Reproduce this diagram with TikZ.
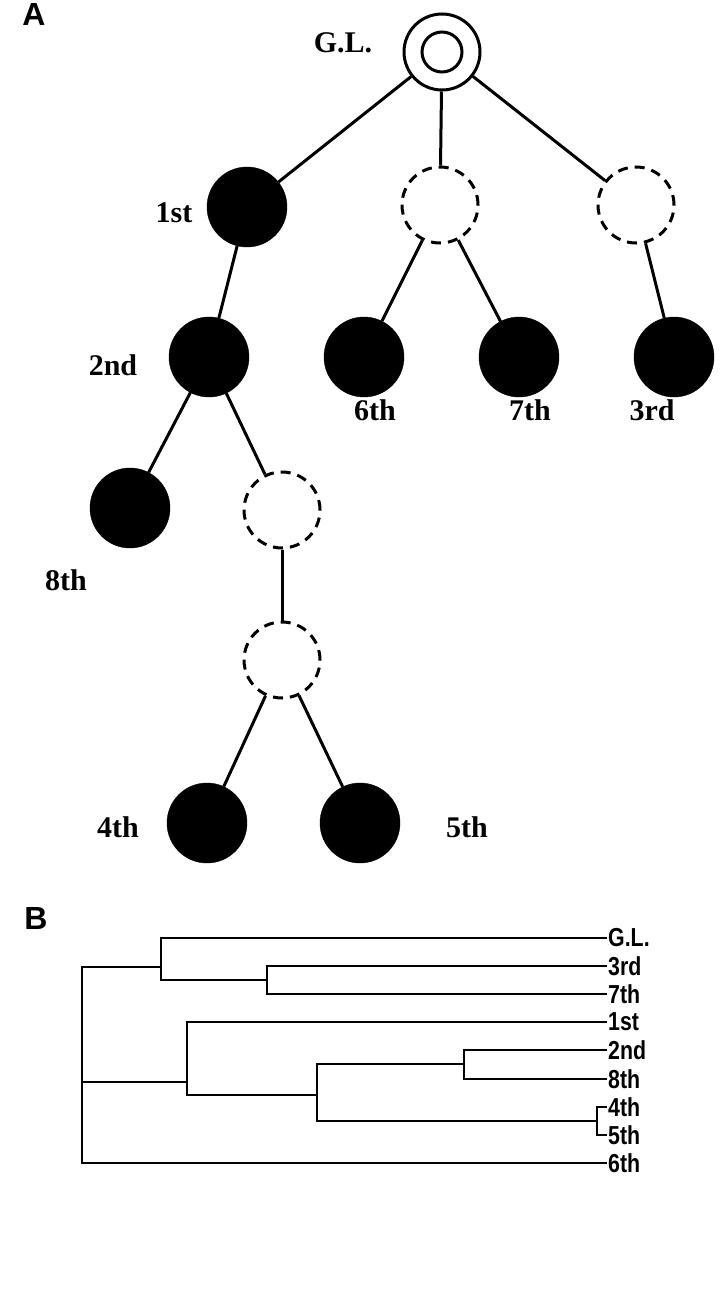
\documentclass[tikz,border=0pt]{standalone}
\usepackage{fontspec}
\setmainfont{Liberation Serif}
\newfontfamily\labfont{Liberation Sans}
\usetikzlibrary{positioning}

\tikzset{
  full/.style={circle, fill=black, draw=black, minimum size=80pt, inner sep=0pt},
  hollow/.style={circle, draw=black, line width=3pt, dash pattern=on 10pt off 7pt, minimum size=76pt, inner sep=0pt},
  link/.style={line width=3pt},
  txtA/.style={font=\bfseries\fontsize{30}{30}\selectfont},
  txtB/.style={font=\labfont\bfseries\fontsize{26}{26}\selectfont, anchor=west, inner sep=1pt},
}
\newcommand{\nar}[1]{\scalebox{0.82}[1]{#1}}

\begin{document}
\begin{tikzpicture}[x=1pt, y=-1pt]
  \useasboundingbox (0,0) rectangle (727,1316);

  % A: tree
  \node[circle, draw, line width=3pt, minimum size=76pt, inner sep=0pt] (gl) at (442,52) {};
  \draw[line width=3pt] (gl) circle (20pt);
  \node[full] (n1) at (247,207) {};
  \node[hollow] (h1) at (440,205) {};
  \node[hollow] (h2) at (636,205) {};
  \node[full] (n2) at (209,357) {};
  \node[full] (n6) at (364,357) {};
  \node[full] (n7) at (519,357) {};
  \node[full] (n3) at (674,357) {};
  \node[full] (n8) at (130,508) {};
  \node[hollow] (h3) at (282,510) {};
  \node[hollow] (h4) at (282,660) {};
  \node[full] (n4) at (207,823) {};
  \node[full] (n5) at (360,823) {};

  \node[txtA] at (343,43) {G.L.};
  \node[txtA] at (174,213) {1st};
  \node[txtA] at (113,365) {2nd};
  \node[txtA] at (375,410) {6th};
  \node[txtA] at (530,410) {7th};
  \node[txtA] at (652,410) {3rd};
  \node[txtA] at (66,580) {8th};
  \node[txtA] at (118,827) {4th};
  \node[txtA] at (467,827) {5th};

  \draw[link] (gl) -- (n1);
  \draw[link] (gl) -- (h1);
  \draw[link] (gl) -- (h2);
  \draw[link] (n1) -- (n2);
  \draw[link] (h1) -- (n6);
  \draw[link] (h1) -- (n7);
  \draw[link] (h2) -- (n3);
  \draw[link] (n2) -- (n8);
  \draw[link] (n2) -- (h3);
  \draw[link] (h3) -- (h4);
  \draw[link] (h4) -- (n4);
  \draw[link] (h4) -- (n5);

  \node[font=\labfont\bfseries\fontsize{32}{32}\selectfont] at (34,14) {A};
  \node[font=\labfont\bfseries\fontsize{32}{32}\selectfont] at (36,918) {B};

  % B: dendrogram
  \node[txtB] (bgl) at (607,938) {\nar{G.L.}};
  \node[txtB] (b3) at (607,966) {\nar{3rd}};
  \node[txtB] (b7) at (607,994) {\nar{7th}};
  \node[txtB] (b1) at (607,1022) {\nar{1st}};
  \node[txtB] (b2) at (607,1050) {\nar{2nd}};
  \node[txtB] (b8) at (607,1079) {\nar{8th}};
  \node[txtB] (b4) at (607,1107) {\nar{4th}};
  \node[txtB] (b5) at (607,1135) {\nar{5th}};
  \node[txtB] (b6) at (607,1163) {\nar{6th}};

  \coordinate (c37) at (267,980);
  \coordinate (k1) at (161,980);
  \coordinate (k1t) at (161,967);
  \coordinate (rt) at (82,967);
  \coordinate (c28) at (464,1064);
  \coordinate (c45) at (597,1121);
  \coordinate (k3b) at (317,1121);
  \coordinate (k3) at (317,1095);
  \coordinate (k2b) at (187,1095);
  \coordinate (k2) at (187,1082);
  \coordinate (rt2) at (82,1082);

  \begin{scope}[line width=2.5pt]
    \draw (bgl.west) -| (k1) -- (c37);
    \draw (b3.west) -| (c37) |- (b7.west);
    \draw (b2.west) -| (c28) |- (b8.west);
    \draw (b4.west) -| (c45) |- (b5.west);
    \draw (c28) -| (k3b) -- (c45);
    \draw (b1.west) -| (k2b) -- (k3);
    \draw (k2) -- (rt2);
    \draw (k1t) -- (rt) |- (b6.west);
  \end{scope}
\end{tikzpicture}
\end{document}
